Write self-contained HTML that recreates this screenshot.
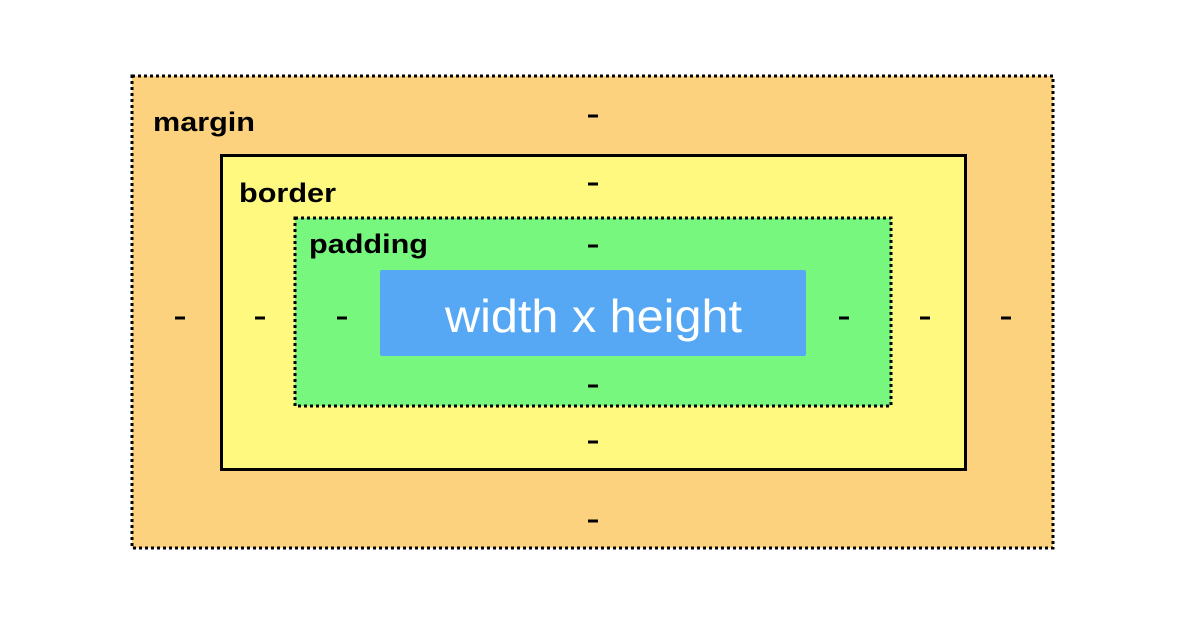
<!DOCTYPE html>
<html><head><style>body{margin:0;background:#fff}svg{display:block}</style></head><body>
<svg width="1200" height="627" xmlns="http://www.w3.org/2000/svg" font-family="Liberation Sans, sans-serif">
<rect x="132" y="76" width="921" height="472" fill="#fdd27f" stroke="#000" stroke-width="3" stroke-dasharray="3,3"/>
<rect x="221.5" y="155.5" width="744" height="314" fill="#fff980" stroke="#000" stroke-width="3"/>
<rect x="295" y="218" width="596" height="188" fill="#78f77e" stroke="#000" stroke-width="3" stroke-dasharray="3,3"/>
<rect x="380" y="270" width="426" height="86" fill="#56a8f5" rx="2"/>
<text x="445" y="332" font-size="46" fill="#fff" textLength="297" lengthAdjust="spacingAndGlyphs">width x height</text>
<g font-weight="bold" font-size="27" fill="#000">
<text x="153" y="131" textLength="102" lengthAdjust="spacingAndGlyphs">margin</text>
<text x="239" y="202" textLength="97" lengthAdjust="spacingAndGlyphs">border</text>
<text x="309" y="253" textLength="119" lengthAdjust="spacingAndGlyphs">padding</text>
</g>
<g stroke="#000" stroke-width="3">
<line x1="588" y1="116" x2="598" y2="116"/><line x1="588" y1="521" x2="598" y2="521"/>
<line x1="175" y1="318" x2="185" y2="318"/><line x1="1001" y1="318" x2="1011" y2="318"/>
<line x1="588" y1="184" x2="598" y2="184"/><line x1="588" y1="442" x2="598" y2="442"/>
<line x1="255" y1="318" x2="265" y2="318"/><line x1="920" y1="318" x2="930" y2="318"/>
<line x1="588" y1="246" x2="598" y2="246"/><line x1="588" y1="386" x2="598" y2="386"/>
<line x1="337" y1="318" x2="347" y2="318"/><line x1="839" y1="318" x2="849" y2="318"/>
</g>
</svg>
</body></html>
